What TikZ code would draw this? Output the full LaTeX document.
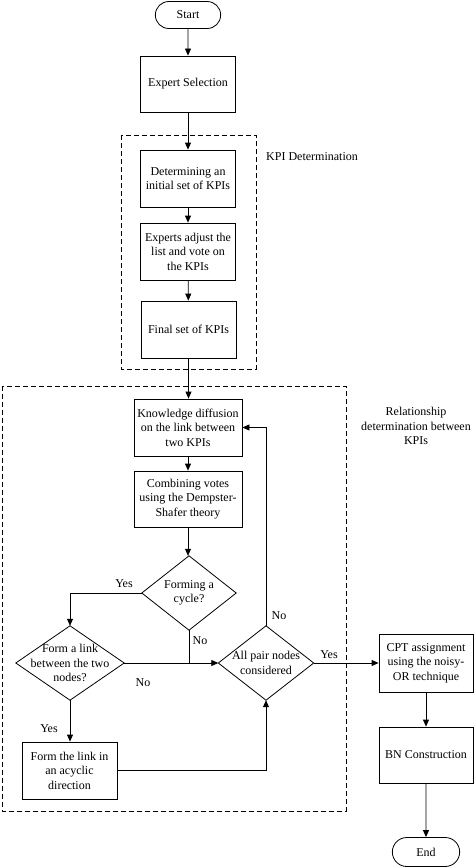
\documentclass[tikz,border=0pt]{standalone}
\usepackage{fontspec}
\setmainfont{Liberation Serif}
\usetikzlibrary{arrows.meta,positioning,calc,shapes.misc}
\tikzset{
  box/.style={draw,line width=0.8pt,minimum width=95pt,minimum height=57pt,align=center,inner sep=2pt},
  term/.style={draw,line width=0.8pt,rounded rectangle,minimum width=72pt,minimum height=27pt},
  decbox/.style={minimum height=74pt,inner sep=0pt,align=center},
  grp/.style={line width=0.8pt,dash pattern=on 5pt off 3pt},
  arr/.style={line width=0.8pt,-{Triangle[length=7pt,width=6pt]}},
  ln/.style={line width=0.8pt},
}

\begin{document}
\begin{tikzpicture}[x=1pt,y=-1pt,font=\fontsize{12}{14.5}\selectfont]
\newcommand{\dec}[4]{\node[decbox,minimum width=#3] (#1) at (#2) {#4};
  \draw[ln] (#1.north) -- (#1.east) -- (#1.south) -- (#1.west) -- cycle;}
\useasboundingbox (0,0) rectangle (474,867);
% groups
\draw[grp] (121,135) rectangle (256,369);
\draw[grp] (2,386) rectangle (346,811);
\node (kpilbl) at (312,157) {KPI Determination};
\node[align=center] (rellbl) at (416,426) {Relationship\\determination between\\KPIs};
% main column
\node[term] (start) at (188,15) {Start};
\node[box,minimum height=56pt] (expert) at (188,84) {Expert Selection};
\node[box] (det) at (188,178.5) {Determining an\\initial set of KPIs};
\node[box] (adj) at (188,251.5) {Experts adjust the\\list and vote on\\the KPIs};
\node[box] (fin) at (188.5,329.5) {Final set of KPIs};
\node[box,minimum width=108pt] (kd) at (188,427.5) {Knowledge diffusion\\on the link between\\two KPIs};
\node[box,minimum width=108pt,minimum height=56pt] (comb) at (188,499) {Combining votes\\using the Dempster-\\Shafer theory};
\dec{cyc}{189,593}{94pt}{Forming a\\cycle?}
\dec{link}{70,663}{108pt}{Form a link\\between the two\\nodes?}
\dec{all}{266,663}{95pt}{All pair nodes\\considered}
\node[box] (form) at (69.5,770.5) {Form the link in\\an acyclic\\direction};
% right column
\node[box,minimum width=94pt,minimum height=58pt] (cpt) at (426,663) {CPT assignment\\using the noisy-\\OR technique};
\node[box,minimum width=94pt,minimum height=56pt] (bn) at (426,755) {BN Construction};
\node[term,minimum width=74pt,minimum height=29pt] (end) at (426,852) {End};
% connectors
\draw[arr] (start) -- (expert);
\draw[arr] (expert) -- (det);
\draw[arr] (det) -- (adj);
\draw[arr] (adj) -- (fin);
\draw[arr] (fin.south) -- (fin.south |- kd.north);
\draw[arr] (kd) -- (comb);
\draw[arr] (comb.south) -- (comb.south |- cyc.north);
\draw[arr] (cyc.west) -| (link.north);
\draw[ln] (cyc.south) -- (cyc.south |- all.west);
\draw[arr] (link.east) -- (all.west);
\draw[arr] (link.south) -- (link.south |- form.north);
\draw[arr] (form.east) -| (all.south);
\draw[arr] (all.north) |- (kd.east);
\draw[arr] (all.east) -- (cpt.west);
\draw[arr] (cpt) -- (bn);
\draw[arr] (bn) -- (end);
% labels
\node (yes1) at (124,584) {Yes};
\node (no1) at (200,641) {No};
\node (no2) at (143,683) {No};
\node (yes2) at (49,729) {Yes};
\node (no3) at (279,616) {No};
\node (yes3) at (329,655) {Yes};
\end{tikzpicture}
\end{document}
